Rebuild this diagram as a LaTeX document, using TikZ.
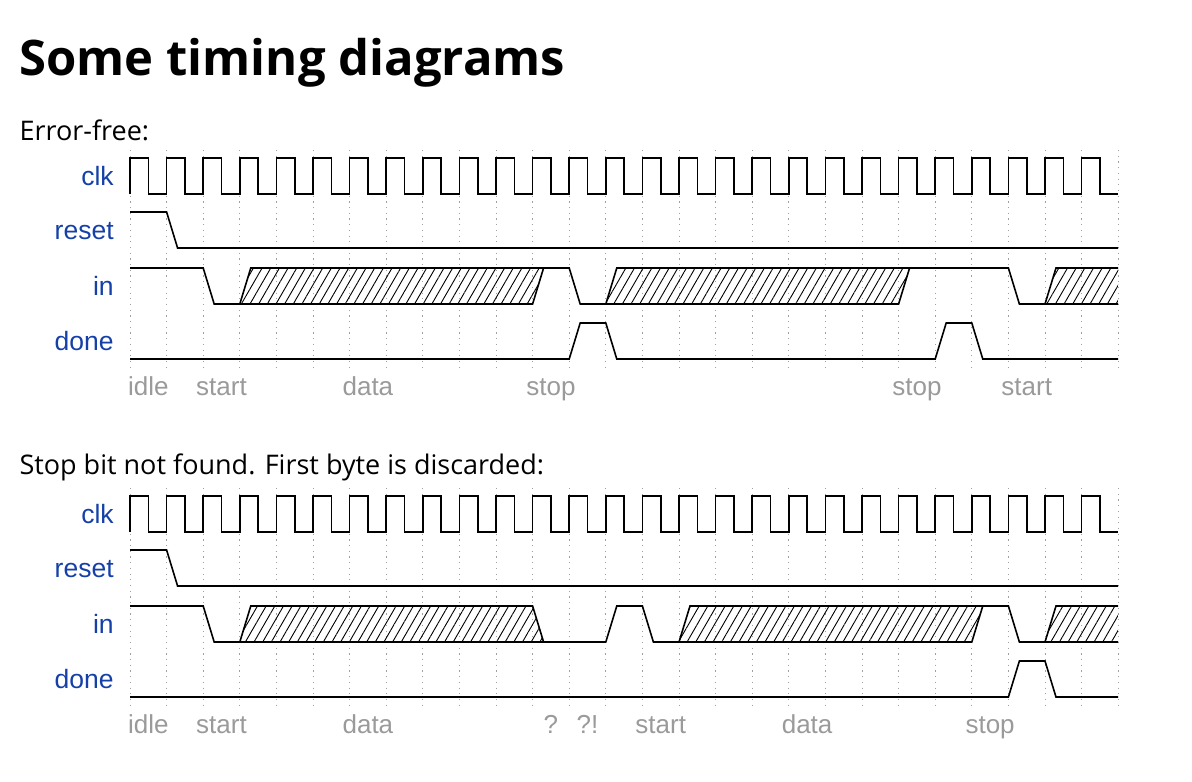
\documentclass[tikz,border=0pt]{standalone}
\usepackage{fontspec}
\setmainfont{Liberation Sans}
\newfontfamily\titlefont{Open Sans}
\usetikzlibrary{patterns.meta}

\definecolor{sigblue}{HTML}{1540A8}
\definecolor{gridgray}{HTML}{A0A0A0}
\definecolor{phasegray}{HTML}{9A9A9A}

\tikzset{
  wave/.style = {line width=1.6pt, line join=miter},
  bus/.style = {wave, pattern={Lines[angle=60, distance=7.5pt, line width=0.9pt]}},
  busfill/.style = {pattern={Lines[angle=60, distance=7.5pt, line width=0.9pt]}},
  tick/.style = {gridgray, dash pattern=on 1.2pt off 4.5pt, line width=1pt},
  signame/.style = {anchor=east, text=sigblue, font=\fontsize{26.5}{30}\selectfont},
  phase/.style = {anchor=base, text=phasegray, font=\fontsize{26}{30}\selectfont},
  heading/.style = {anchor=base west, font=\fontsize{27}{32}\selectfont\titlefont},
}

\begin{document}
\begin{tikzpicture}[x=1pt, y=-1pt]
  \useasboundingbox (0,0) rectangle (1192,782);

  \node[anchor=base west, font=\fontsize{49}{56}\selectfont\titlefont\bfseries]
    (title) at (16,75) {Some timing diagrams};
  \node[heading] (head1) at (16,140) {Error-free:};
  \node[heading] (head2) at (16,474) {Stop bit not found. First byte is discarded:};

  % error-free
  \begin{scope}[shift={(130,158)}, x=36.6pt]
    \foreach \t in {0,...,27}
      \draw[tick] (\t,-8) -- (\t,212);

    \node[signame] (clkA) at (-0.35,18) {clk};
    \node[signame] (resetA) at (-0.35,73) {reset};
    \node[signame] (inA) at (-0.35,128) {in};
    \node[signame] (doneA) at (-0.35,183) {done};

    \draw[wave] (0,36) \foreach \i in {0,...,26}{ -- (\i,0) -- (\i+.5,0) -- (\i+.5,36) -- (\i+1,36)};
    \draw[wave] (0,54) -- (1,54) -- (1.3,90) -- (27,90);

    \draw[wave] (0,110) -- (2,110) -- (2.3,146) -- (3,146);
    \draw[bus] (3,146) -- (3.3,110) -- (11.3,110) -- (11,146) -- cycle;
    \draw[wave] (11.3,110) -- (12,110) -- (12.3,146) -- (13,146);
    \draw[bus] (13,146) -- (13.3,110) -- (21.3,110) -- (21,146) -- cycle;
    \draw[wave] (21.3,110) -- (24,110) -- (24.3,146) -- (25,146);
    \fill[busfill] (25,146) -- (25.3,110) -- (27,110) -- (27,146) -- cycle;
    \draw[wave] (27,110) -- (25.3,110) -- (25,146) -- (27,146);

    \draw[wave] (0,201) -- (12,201) -- (12.3,165) -- (13,165) -- (13.3,201)
      -- (22,201) -- (22.3,165) -- (23,165) -- (23.3,201) -- (27,201);

    \node[phase] (idleA) at (0.5,237) {idle};
    \node[phase] (startA) at (2.5,237) {start};
    \node[phase] (dataA) at (6.5,237) {data};
    \node[phase] (stopA) at (11.5,237) {stop};
    \node[phase] (stopB) at (21.5,237) {stop};
    \node[phase] (startB) at (24.5,237) {start};
  \end{scope}

  % stop bit missing
  \begin{scope}[shift={(130,496)}, x=36.6pt]
    \foreach \t in {0,...,27}
      \draw[tick] (\t,-8) -- (\t,212);

    \node[signame] (clkB) at (-0.35,18) {clk};
    \node[signame] (resetB) at (-0.35,73) {reset};
    \node[signame] (inB) at (-0.35,128) {in};
    \node[signame] (doneB) at (-0.35,183) {done};

    \draw[wave] (0,36) \foreach \i in {0,...,26}{ -- (\i,0) -- (\i+.5,0) -- (\i+.5,36) -- (\i+1,36)};
    \draw[wave] (0,54) -- (1,54) -- (1.3,90) -- (27,90);

    \draw[wave] (0,110) -- (2,110) -- (2.3,146) -- (3,146);
    \draw[bus] (3,146) -- (3.3,110) -- (11,110) -- (11.3,146) -- cycle;
    \draw[wave] (11.3,146) -- (13,146) -- (13.3,110) -- (14,110) -- (14.3,146) -- (15,146);
    \draw[bus] (15,146) -- (15.3,110) -- (23.3,110) -- (23,146) -- cycle;
    \draw[wave] (23.3,110) -- (24,110) -- (24.3,146) -- (25,146);
    \fill[busfill] (25,146) -- (25.3,110) -- (27,110) -- (27,146) -- cycle;
    \draw[wave] (27,110) -- (25.3,110) -- (25,146) -- (27,146);

    \draw[wave] (0,201) -- (24,201) -- (24.3,165) -- (25,165) -- (25.3,201) -- (27,201);

    \node[phase] (idleC) at (0.5,237) {idle};
    \node[phase] (startC) at (2.5,237) {start};
    \node[phase] (dataC) at (6.5,237) {data};
    \node[phase] (qmark) at (11.5,237) {?};
    \node[phase] (qbang) at (12.5,237) {?!};
    \node[phase] (startD) at (14.5,237) {start};
    \node[phase] (dataD) at (18.5,237) {data};
    \node[phase] (stopC) at (23.5,237) {stop};
  \end{scope}
\end{tikzpicture}
\end{document}
